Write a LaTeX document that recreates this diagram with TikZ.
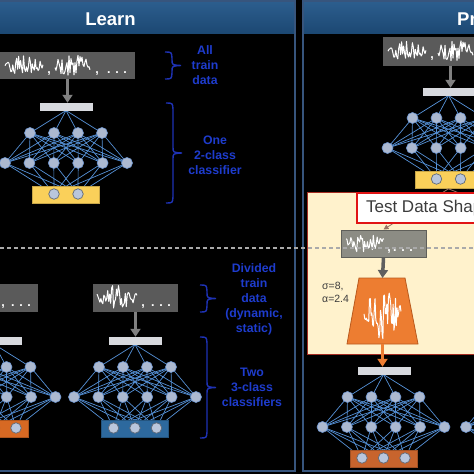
\documentclass[tikz,border=0pt]{standalone}
\usepackage{fontspec}
\setmainfont{Liberation Sans}
\usetikzlibrary{arrows.meta}
\definecolor{hdrtop}{RGB}{44,94,142}
\definecolor{hdrbot}{RGB}{28,72,115}
\definecolor{panelline}{RGB}{55,85,125}
\definecolor{sigfill}{RGB}{90,90,90}
\definecolor{barfill}{RGB}{215,217,222}
\definecolor{neufill}{RGB}{172,185,208}
\definecolor{neuedge}{RGB}{110,150,210}
\definecolor{connblue}{RGB}{85,145,215}
\definecolor{outfill}{RGB}{185,198,220}
\definecolor{outedge}{RGB}{95,105,120}
\definecolor{yelbox}{RGB}{250,208,90}
\definecolor{bluebox}{RGB}{45,105,158}
\definecolor{orgbox}{RGB}{215,105,35}
\definecolor{orgbox2}{RGB}{200,100,45}
\definecolor{labelblue}{RGB}{30,60,205}
\definecolor{bracecol}{RGB}{30,50,180}
\definecolor{arrowgray}{RGB}{128,128,128}
\definecolor{darkarrow}{RGB}{95,95,95}
\definecolor{creamfill}{RGB}{255,242,204}
\definecolor{creamedge}{RGB}{165,45,35}
\definecolor{testred}{RGB}{225,20,20}
\definecolor{textgray}{RGB}{60,60,60}
\definecolor{sgrayfill}{RGB}{140,140,132}
\definecolor{sgrayedge}{RGB}{95,95,90}
\definecolor{trapfill}{RGB}{237,125,49}
\definecolor{trapedge}{RGB}{185,90,30}
\definecolor{dashcol}{RGB}{170,170,170}
\definecolor{thinline}{RGB}{150,115,100}

\newcommand\mynet[5]{%
  \pgfmathsetmacro\osp{#4==2?24:21.5}%
  \coordinate (#1b) at ({#2},{#3+7.5});
  \foreach \i in {1,...,4}{\coordinate (#1a\i) at ({#2+24*(\i-2.5)},{#3+30});}
  \foreach \j in {1,...,6}{\coordinate (#1c\j) at ({#2+24.4*(\j-3.5)},{#3+60});}
  \foreach \k in {1,...,#4}{\coordinate (#1o\k) at ({#2+\osp*(\k-(#4+1)/2)},{#3+91});}
  \foreach \i in {1,...,4}{\draw[conn] (#1b) -- (#1a\i);
    \foreach \j in {1,...,6}{\draw[conn] (#1a\i) -- (#1c\j);}}
  \foreach \j in {1,...,6}{\foreach \k in {1,...,#4}{\draw[conn] (#1c\j) -- (#1o\k);}}
  \node[barbox] (#1B) at ({#2+0.5},{#3+3.75}) {};
  \node[outbox,fill=#5,draw=#5!80!black] (#1O) at ({#2},{#3+92}) {};
  \foreach \i in {1,...,4}{\node[neuron] (#1A\i) at (#1a\i) {};}
  \foreach \j in {1,...,6}{\node[neuron] (#1C\j) at (#1c\j) {};}
  \foreach \k in {1,...,#4}{\node[outneuron] (#1K\k) at (#1o\k) {};}
}
\newcommand\squig[7]{%
  \pgfmathsetseed{#5}%
  \draw[wave] plot[domain=#1:#2,samples=#6] (\x,{#3+#4*rand*(#7+(1-#7)*sin(180*(\x-#1)/(#2-#1)))});
}
\newcommand\curly[3]{%
  \pgfmathsetmacro\ymid{(#2+#3)/2}%
  \draw[bracestroke] (#1,#2) .. controls ({#1+6.5},{#2}) .. ({#1+7},{#2+6})
    -- ({#1+7},{\ymid-6}) .. controls ({#1+7},{\ymid-0.5}) .. ({#1+16},{\ymid})
    .. controls ({#1+7},{\ymid+0.5}) .. ({#1+7},{\ymid+6})
    -- ({#1+7},{#3-6}) .. controls ({#1+6.5},{#3}) .. (#1,#3);
}

\begin{document}
\begin{tikzpicture}[x=1pt,y=-1pt,
  neuron/.style={circle,fill=neufill,draw=neuedge,line width=0.6pt,minimum size=11pt,inner sep=0pt},
  outneuron/.style={circle,fill=outfill,draw=outedge,line width=0.7pt,minimum size=10.5pt,inner sep=0pt},
  barbox/.style={rectangle,fill=barfill,minimum width=53pt,minimum height=7.5pt,inner sep=0pt},
  outbox/.style={rectangle,line width=0.6pt,minimum width=67pt,minimum height=17pt,inner sep=0pt},
  conn/.style={draw=connblue,line width=0.7pt},
  sigbox/.style={rectangle,fill=sigfill,minimum width=135pt,minimum height=27pt,inner sep=0pt},
  wave/.style={draw=white,line width=1pt,line join=round},
  dotstext/.style={text=white,font=\bfseries\fontsize{12.5}{12.5}\selectfont,inner sep=0pt,anchor=base},
  grayarrow/.style={draw=arrowgray,line width=3.5pt,-{Triangle[width=10pt,length=8pt]}},
  bluelabel/.style={text=labelblue,font=\bfseries\fontsize{12.3}{15}\selectfont,align=center,inner sep=0pt},
  bracestroke/.style={draw=bracecol,line width=1.4pt},
  hdr/.style={top color=hdrtop,bottom color=hdrbot,draw=none},
]
\useasboundingbox (0,0) rectangle (474,474);
\clip (0,0) rectangle (474,474);
\fill[black] (0,0) rectangle (474,474);

% panels and headers
\fill[hdr] (-5,1) rectangle (295,33);
\fill[hdr] (303,1) rectangle (480,33);
\draw[panelline,line width=1.5pt] (-5,1) rectangle (295,471);
\draw[panelline,line width=1.5pt] (303,1) rectangle (480,471);
\node[text=white,font=\bfseries\fontsize{18.5}{18.5}\selectfont,anchor=base,inner sep=0pt] (learn) at (110.5,25) {Learn};
\node[text=white,font=\bfseries\fontsize{18.5}{18.5}\selectfont,anchor=base west,inner sep=0pt] (predict) at (457,25) {Predict};

% ---- Learn: top
\node[sigbox] (s1) at (67.5,65.5) {};
\squig{5}{43}{65.5}{11.5}{11}{40}{0.4}
\squig{55}{90}{65.5}{11.5}{12}{36}{0.4}
\node[dotstext] (s1c1) at (49,73) {,};
\node[dotstext] (s1c2) at (97,73) {,};
\node[dotstext] (s1d) at (117,73) {. . .};
\mynet{tl}{66}{103}{2}{yelbox}
\draw[grayarrow] (s1.south) -- (s1.south |- tlB.north);

\curly{165}{52}{79}
\node[bluelabel] (lab1) at (205,65) {All\\train\\data};
\curly{166}{103}{203}
\node[bluelabel] (lab2) at (215,155) {One\\2-class\\classifier};

% ---- Learn: bottom
\node[sigbox,minimum width=85pt,minimum height=28pt] (s2) at (-5,298) {};
\node[dotstext] (s2c) at (3,306) {,};
\node[dotstext] (s2d) at (21,306) {. . .};
\mynet{bl}{-5.5}{337}{3}{orgbox}

\node[sigbox,minimum width=85pt,minimum height=28pt] (s3) at (135.5,298) {};
\squig{97}{137}{297}{12}{21}{42}{0.3}
\node[dotstext] (s3c) at (143,306) {,};
\node[dotstext] (s3d) at (161,306) {. . .};
\mynet{br}{135}{337}{3}{bluebox}
\draw[grayarrow] (s3.south) -- (s3.south |- brB.north);

\curly{200}{285}{312}
\node[bluelabel] (lab3) at (254,299) {Divided\\train\\data\\(dynamic,\\static)};
\curly{200}{337}{438}
\node[bluelabel] (lab4) at (252,387) {Two\\3-class\\classifiers};

% ---- Predict: top
\node[sigbox,minimum height=29pt] (s4) at (450.5,51.5) {};
\squig{388}{426}{51}{11.5}{11}{40}{0.4}
\squig{438}{473}{51}{11.5}{12}{36}{0.4}
\node[dotstext] (s4c) at (432,58) {,};
\mynet{rt}{448.5}{88}{2}{yelbox}
\draw[grayarrow] (s4.south) -- (s4.south |- rtB.north);

% ---- Predict: bottom networks
\mynet{rb}{383.5}{367}{3}{orgbox2}
\mynet{rx}{527}{367}{3}{orgbox2}

% ---- shaping box
\node[fill=creamfill,draw=creamedge,line width=1.2pt,minimum width=200pt,minimum height=162pt,anchor=north west,inner sep=0pt] (crm) at (307,192) {};
\node[fill=sgrayfill,draw=sgrayedge,line width=1pt,minimum width=85pt,minimum height=27pt,inner sep=0pt] (sgray) at (383.5,243.5) {};
\squig{346}{384}{242}{11.5}{31}{40}{0.3}
\node[dotstext] (sgc) at (389,251) {,};
\node[dotstext] (sgd) at (403,251) {. . .};

\coordinate (offR) at (560,233);
\draw[thinline,line width=0.8pt,-{Triangle[width=5pt,length=5pt]}] (rtO.south) -- (sgray.north);
\draw[thinline,line width=0.8pt] (rtO.south) -- (offR);

\node[fill=white,draw=testred,line width=2.2pt,minimum height=30pt,inner xsep=9pt,inner ysep=0pt,anchor=west,text=textgray,font=\fontsize{17}{17}\selectfont] (test) at (356,208) {Test Data Shaping};

\coordinate (trapT) at (382.5,278);
\coordinate (trapB) at (382.5,344);
\filldraw[fill=trapfill,draw=trapedge,line width=0.8pt] (359,278) -- (405,278) -- (418,344) -- (347,344) -- cycle;
\squig{364}{401}{312}{27}{41}{48}{0.25}
\draw[draw=darkarrow,line width=3.5pt,-{Triangle[width=10pt,length=8pt]}] (sgray.south) -- (trapT);
\draw[draw=trapfill,line width=3pt,-{Triangle[width=10pt,length=8pt]}] (trapB) -- (rbB.north -| trapB);

\node[text=textgray,font=\fontsize{10.5}{13}\selectfont,align=left,anchor=west,inner sep=0pt] (params) at (322,292.5) {σ=8,\\α=2.4};

% dashed separator
\coordinate (dashL) at (0,248);
\coordinate (dashR) at (474,248);
\draw[dashcol,line width=1.2pt,dash pattern=on 4pt off 3pt] (dashL) -- (dashR);
\end{tikzpicture}
\end{document}
